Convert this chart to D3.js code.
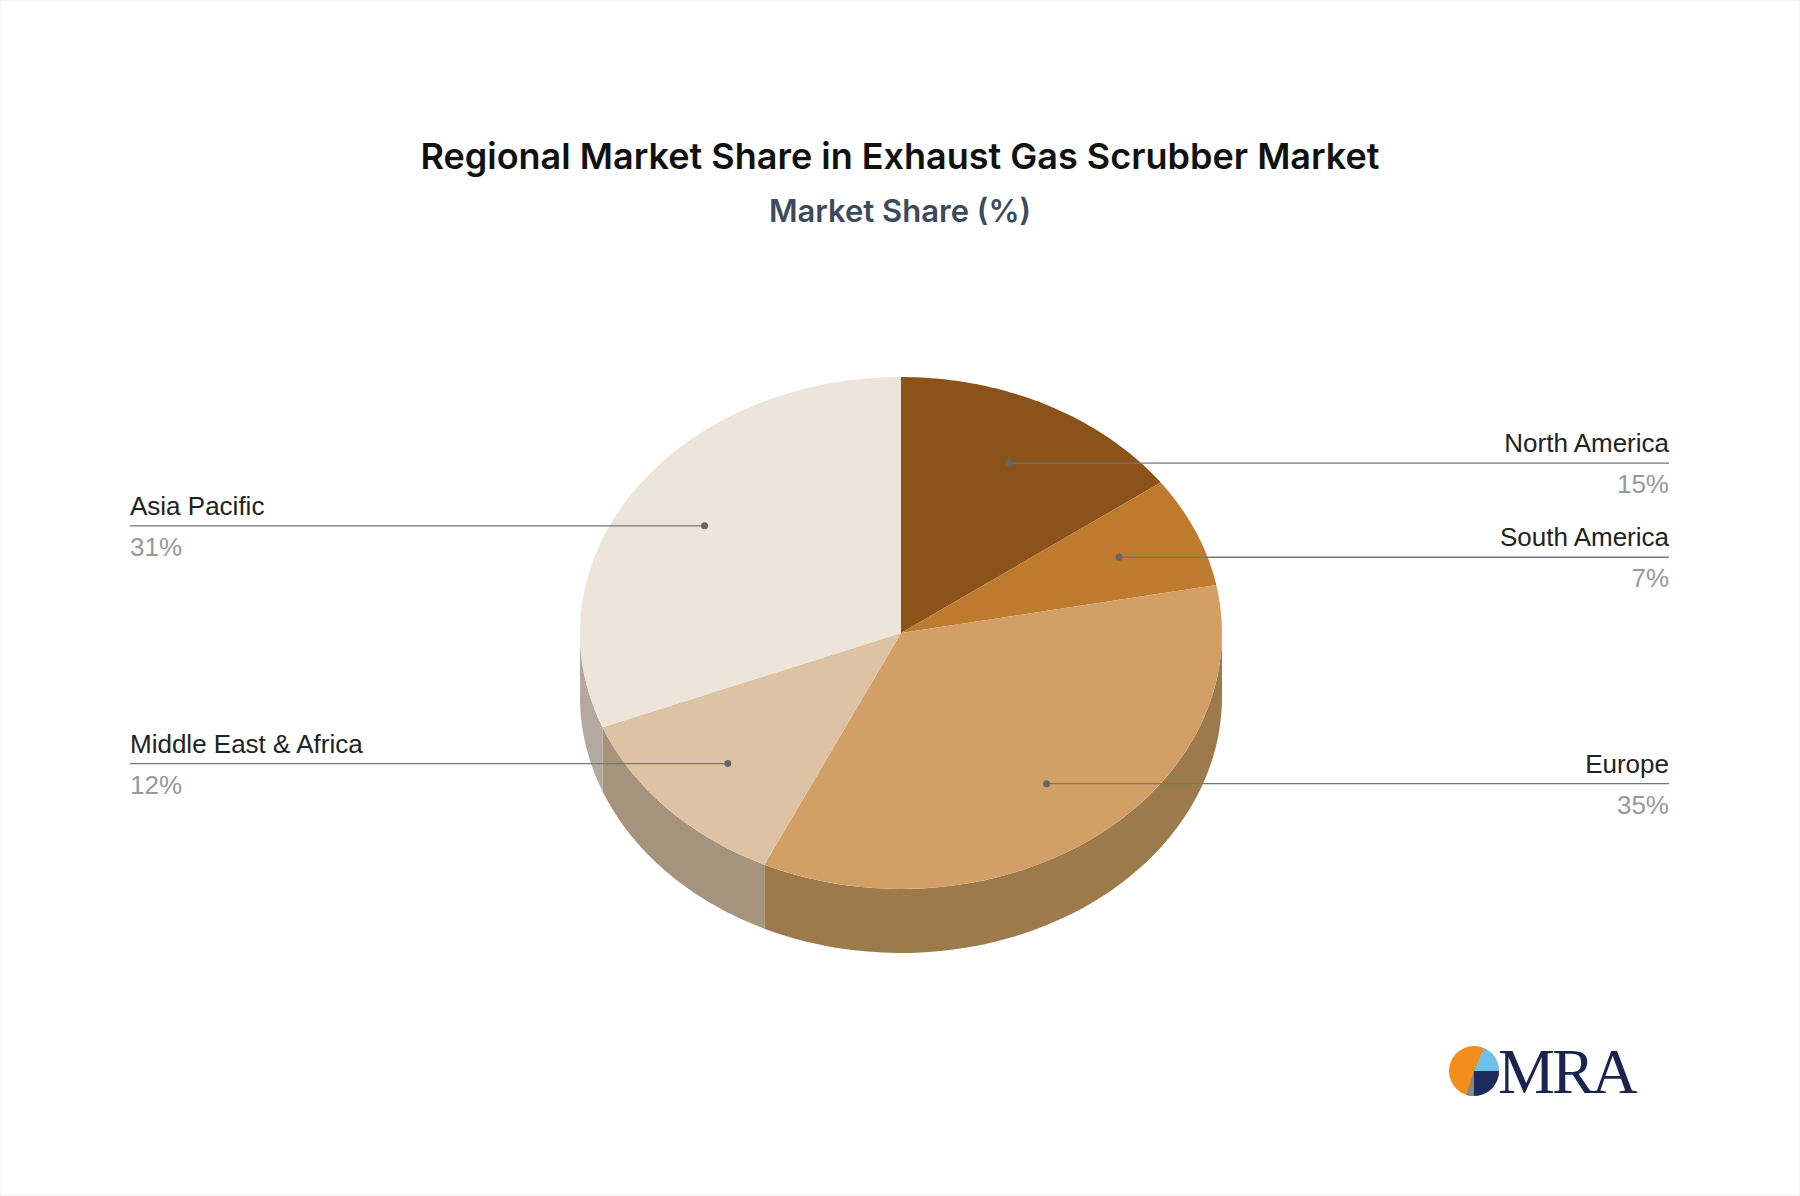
<!DOCTYPE html>
<html><head><meta charset="utf-8">
<script src="https://cdn.jsdelivr.net/npm/d3@7"></script>
<style>body{margin:0;background:#fff;font-family:"Liberation Sans",Arial,sans-serif}</style>
</head><body><svg id="c" width="1800" height="1196"></svg>
<script>
const regions=["North America","South America","Europe","Middle East & Africa","Asia Pacific"];
const shares=[15,7,35,12,31];
const topColors=["#8B5319","#BE7A2F","#D2A066","#DDC3A4","#EDE4DA"];
const sideColors=["#5E3810","#80531F","#9C7A4C","#A6937D","#B3A99E"];
const labelSide=["right","right","right","left","left"];

const svg=d3.select("#c");
svg.append("rect").attr("width",1800).attr("height",1196).attr("fill","#fff").attr("stroke","#eee");
svg.append("text").attr("x",900).attr("y",169).attr("text-anchor","middle").attr("font-family","Inter,Roboto,sans-serif").attr("font-size",36).attr("font-weight",600).attr("fill","#111").text("Regional Market Share in Exhaust Gas Scrubber Market");
svg.append("text").attr("x",900).attr("y",222).attr("text-anchor","middle").attr("font-family","Inter,Roboto,sans-serif").attr("font-size",31).attr("font-weight",600).attr("fill","#3d4a5c").text("Market Share (%)");

const cx=901,cy=633,rx=321,ry=256,depth=64;
const pt=(t,r=1,dy=0)=>[cx+rx*r*Math.sin(t),cy-ry*r*Math.cos(t)+dy];
const arcs=d3.pie().sort(null).value(d=>d)(shares);
const N=60;
function arcPts(a0,a1,dy){const p=[];for(let i=0;i<=N;i++){p.push(pt(a0+(a1-a0)*i/N,1,dy));}return p;}
arcs.forEach((a,i)=>{
  const s=Math.max(a.startAngle,Math.PI/2), e=Math.min(a.endAngle,3*Math.PI/2);
  if(e<=s) return;
  const top=arcPts(s,e,0), bot=arcPts(e,s,depth);
  svg.append("path").attr("d",d3.line()(top.concat(bot))+"Z").attr("fill",sideColors[i]);
});
arcs.forEach((a,i)=>{
  const p=[[cx,cy]].concat(arcPts(a.startAngle,a.endAngle,0));
  svg.append("path").attr("d",d3.line()(p)+"Z").attr("fill",topColors[i]);
});
arcs.forEach((a,i)=>{
  const m=(a.startAngle+a.endAngle)/2;
  const dx=cx+rx*0.74*Math.sin(m), dy=cy-ry*0.745*Math.cos(m);
  const right=labelSide[i]==="right";
  const xe=right?1669:130;
  svg.append("line").attr("x1",dx).attr("y1",dy).attr("x2",xe).attr("y2",dy).attr("stroke","#777").attr("stroke-width",1.3);
  svg.append("circle").attr("cx",dx).attr("cy",dy).attr("r",3.5).attr("fill","#666");
  const anchor=right?"end":"start";
  svg.append("text").attr("x",xe).attr("y",dy-11).attr("text-anchor",anchor).attr("font-size",26).attr("fill","#222").text(regions[i]);
  svg.append("text").attr("x",xe).attr("y",dy+30).attr("text-anchor",anchor).attr("font-size",26).attr("fill","#999").text(shares[i]+"%");
});
const g=svg.append("g").attr("transform","translate(1474,1071)");
g.append("circle").attr("r",25).attr("fill","#F28C1A");
g.append("path").attr("d","M0,0 L25,0 A25,25 0 0 0 10,-23 Z").attr("fill","#6EC1EA");
g.append("path").attr("d","M0,0 L25,0 A25,25 0 0 1 0,25 Z").attr("fill","#1B2B5E");
g.append("path").attr("d","M0,0 L0,25 A25,25 0 0 1 -8,24 Z").attr("fill","#888");
svg.append("text").attr("x",1498).attr("y",1093).attr("font-family","Liberation Serif,serif").attr("font-size",64).attr("fill","#1B2350").attr("letter-spacing",-3).text("MRA");
</script></body></html>
